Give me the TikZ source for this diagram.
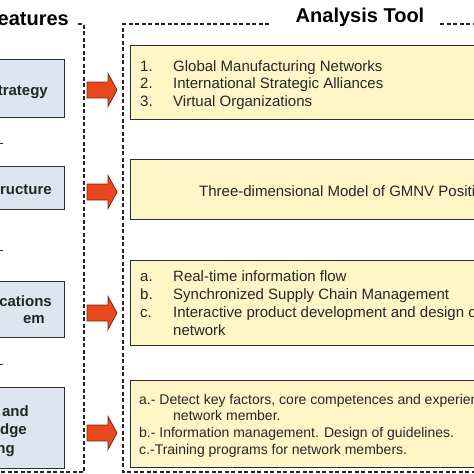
\documentclass[tikz,border=0pt]{standalone}
\usepackage{fontspec}
\setmainfont{Liberation Sans}
\definecolor{lboxfill}{RGB}{222,228,240}
\definecolor{yboxfill}{RGB}{255,246,200}
\definecolor{arrowred}{RGB}{232,72,30}
\definecolor{arrowdark}{RGB}{125,40,18}
\definecolor{edge}{RGB}{45,45,45}
\begin{document}
\begin{tikzpicture}[x=1pt,y=-1pt,
  lbox/.style={draw=edge, line width=1.3pt, fill=lboxfill, inner sep=0pt},
  ybox/.style={draw=edge, line width=1.3pt, fill=yboxfill, inner sep=0pt},
  frame/.style={draw=black!85, line width=1.6pt, dash pattern=on 4pt off 2.5pt},
  head/.style={font=\fontsize{20}{24}\selectfont\bfseries, inner sep=0pt},
  ltxt/.style={font=\fontsize{15}{18}\selectfont\bfseries, text=black!85, inner sep=0pt, anchor=base east},
  rtxt/.style={font=\fontsize{15}{18}\selectfont, text=black!85, inner sep=0pt, anchor=base west},
  stxt/.style={font=\fontsize{14}{17}\selectfont, text=black!85, inner sep=0pt, anchor=base west},
  fat/.style={fill=arrowred, draw=arrowdark, line width=0.8pt, line join=miter},
  fatarrow/.pic={\draw[fat] (0,-8) -- (21,-8) -- (21,-16.5) -- (30,0) -- (21,16.5) -- (21,8) -- (0,8) -- cycle;},
  tick/.style={draw=black!80, line width=1pt}]
\useasboundingbox (0,0) rectangle (474,474);

% headings
\node[head, anchor=base east] (hf) at (69,25) {eatures};
\node[head, anchor=base] (ha) at (360,22) {Analysis Tool};

% dashed frames
\draw[frame] (78,24) -- (84,24) -- (84,472) -- (-5,472);
\draw[frame] (269,24) -- (123,24) -- (123,472) -- (480,472);
\draw[frame] (440,24) -- (480,24);

% left boxes
\node[lbox, minimum width=105pt, minimum height=58pt, anchor=north east] (L1) at (65,59) {};
\node[lbox, minimum width=105pt, minimum height=43pt, anchor=north east] (L2) at (65,166) {};
\node[lbox, minimum width=105pt, minimum height=56pt, anchor=north east] (L3) at (65,281) {};
\node[lbox, minimum width=105pt, minimum height=81pt, anchor=north east] (L4) at (65,387) {};

\node[ltxt] (l1) at (48,95) {trategy};
\node[ltxt] (l2) at (52,194) {ructure};
\node[ltxt] (l3a) at (52,306) {cations};
\node[ltxt] (l3b) at (45,323) {em};
\node[ltxt] (l4a) at (29,416) {and};
\node[ltxt] (l4b) at (27,434) {dge};
\node[ltxt] (l4c) at (15,453) {ng};

% ticks at left edge
\coordinate (k1a) at (0,143); \coordinate (k1b) at (3,143);
\coordinate (k2a) at (0,250); \coordinate (k2b) at (3,250);
\coordinate (k3a) at (0,364); \coordinate (k3b) at (3,364);
\draw[tick] (k1a) -- (k1b);
\draw[tick] (k2a) -- (k2b);
\draw[tick] (k3a) -- (k3b);

% right boxes
\node[ybox, minimum width=360pt, minimum height=74pt, anchor=north west] (Y1) at (130,45) {};
\node[ybox, minimum width=360pt, minimum height=60pt, anchor=north west] (Y2) at (130,159) {};
\node[ybox, minimum width=360pt, minimum height=85pt, anchor=north west] (Y3) at (130,260) {};
\node[ybox, minimum width=360pt, minimum height=87pt, anchor=north west] (Y4) at (130,380) {};

% arrows
\pic at (87,90) {fatarrow};
\pic at (87,192) {fatarrow};
\pic at (87,313) {fatarrow};
\pic at (87,433) {fatarrow};

% box 1 text
\node[rtxt] (a1) at (140,71) {\makebox[33pt][l]{1.}Global Manufacturing Networks};
\node[rtxt] (a2) at (140,88.7) {\makebox[33pt][l]{2.}International Strategic Alliances};
\node[rtxt] (a3) at (140,106.4) {\makebox[33pt][l]{3.}Virtual Organizations};

% box 2 text
\node[rtxt] (b1) at (199,196) {Three-dimensional Model of GMNV Positi};

% box 3 text
\node[rtxt] (c1) at (140,281) {\makebox[33pt][l]{a.}Real-time information flow};
\node[rtxt] (c2) at (140,299) {\makebox[33pt][l]{b.}Synchronized Supply Chain Management};
\node[rtxt] (c3) at (140,317) {\makebox[33pt][l]{c.}Interactive product development and design o};
\node[rtxt] (c4) at (173,335) {network};

% box 4 text
\node[stxt] (d1) at (139,404) {a.- Detect key factors, core competences and experien};
\node[stxt] (d2) at (173,420.7) {network member.};
\node[stxt] (d3) at (139,437.4) {b.- Information management. Design of guidelines.};
\node[stxt] (d4) at (139,454) {c.-Training programs for network members.};
\end{tikzpicture}
\end{document}
